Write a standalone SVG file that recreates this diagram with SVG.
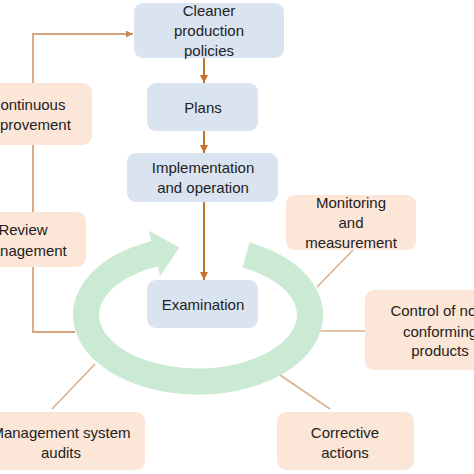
<svg xmlns="http://www.w3.org/2000/svg" width="474" height="474" viewBox="0 0 474 474">
<style>
.blue{fill:#DAE3F0}
.peach{fill:#FCE6D7}
.t{font-family:"Liberation Sans",Arial,sans-serif;font-size:15px;fill:#222;text-anchor:middle}
.flow{stroke:#C2722F;stroke-width:2;fill:none}
.conn{stroke:#D9B190;stroke-width:1.6;fill:none}
.loop{stroke:#D6A47C;stroke-width:1.8;fill:none}
</style>
<defs>
<marker id="ah" viewBox="0 0 10 10" refX="10" refY="5" markerUnits="userSpaceOnUse" markerWidth="8" markerHeight="8" orient="auto">
<path d="M0,0 L10,5 L0,10 z" fill="#C2722F"/>
</marker>
<marker id="ah2" viewBox="0 0 10 10" refX="10" refY="5" markerUnits="userSpaceOnUse" markerWidth="7" markerHeight="7" orient="auto">
<path d="M0,0 L10,5 L0,10 z" fill="#C98A5A"/>
</marker>
</defs>
<rect width="474" height="474" fill="#fff"/>
<g id="connectors">
<polyline class="loop" points="75,332 33,332 33,34 133,34" marker-end="url(#ah2)"/>
<line class="conn" x1="353" y1="250" x2="317" y2="287"/>
<line class="conn" x1="320" y1="331" x2="365" y2="331"/>
<line class="conn" x1="280" y1="375" x2="330" y2="409"/>
<line class="conn" x1="95" y1="364" x2="52" y2="409"/>
<line class="flow" x1="204" y1="58" x2="204" y2="83" marker-end="url(#ah)"/>
<line class="flow" x1="204" y1="131" x2="204" y2="153" marker-end="url(#ah)"/>
<line class="flow" x1="204" y1="202" x2="204" y2="280" marker-end="url(#ah)"/>
</g>
<g id="cycle">
<path d="M246,254.9 A112,66.5 0 1 1 156.2,253.3" fill="none" stroke="#CBEAD4" stroke-width="26"/>
<polygon points="148.6,230.5 179.3,247.4 160.2,276.1" fill="#CBEAD4"/>
</g>
<g id="policies">
<rect class="blue" x="134" y="3" width="150" height="55" rx="9"/>
<text class="t" x="209" y="16">Cleaner</text>
<text class="t" x="209" y="36">production</text>
<text class="t" x="209" y="56">policies</text>
</g>
<g id="plans">
<rect class="blue" x="147" y="83" width="111" height="48" rx="9"/>
<text class="t" x="203" y="113">Plans</text>
</g>
<g id="implementation">
<rect class="blue" x="127" y="153" width="151" height="49" rx="9"/>
<text class="t" x="203" y="173">Implementation</text>
<text class="t" x="203" y="193">and operation</text>
</g>
<g id="examination">
<rect class="blue" x="147" y="280" width="111" height="48" rx="9"/>
<text class="t" x="203" y="310">Examination</text>
</g>
<g id="continuous">
<rect class="peach" x="-38" y="83" width="130" height="62" rx="9"/>
<text class="t" x="27.5" y="110">Continuous</text>
<text class="t" x="27.5" y="130">improvement</text>
</g>
<g id="review">
<rect class="peach" x="-40" y="212" width="126" height="55" rx="9"/>
<text class="t" x="23" y="235">Review</text>
<text class="t" x="23" y="256">management</text>
</g>
<g id="monitoring">
<rect class="peach" x="286" y="195" width="130" height="55" rx="9"/>
<text class="t" x="351" y="208">Monitoring</text>
<text class="t" x="351" y="228">and</text>
<text class="t" x="351" y="248">measurement</text>
</g>
<g id="control">
<rect class="peach" x="365" y="290" width="130" height="80" rx="9"/>
<text class="t" x="440" y="316">Control of non-</text>
<text class="t" x="440" y="337">conforming</text>
<text class="t" x="440" y="356">products</text>
</g>
<g id="audits">
<rect class="peach" x="-20" y="412" width="165" height="58" rx="9"/>
<text class="t" x="61" y="438">Management system</text>
<text class="t" x="61" y="458">audits</text>
</g>
<g id="corrective">
<rect class="peach" x="277" y="412" width="137" height="58" rx="9"/>
<text class="t" x="345" y="438">Corrective</text>
<text class="t" x="345" y="458">actions</text>
</g>
</svg>
